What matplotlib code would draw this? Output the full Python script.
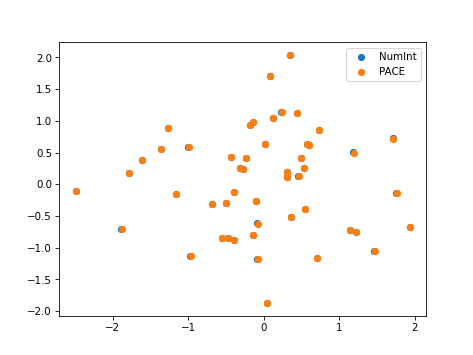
import matplotlib.pyplot as plt

# PACE estimates
pace_x = [-2.49, -1.88, -1.78, -1.61, -1.36, -1.27, -1.17, -0.99, -0.97, -0.69,
          -0.56, -0.50, -0.47, -0.43, -0.40, -0.39, -0.31, -0.28, -0.24, -0.19,
          -0.15, -0.14, -0.11, -0.08, -0.075, 0.02, 0.04, 0.08, 0.12, 0.24,
          0.30, 0.31, 0.345, 0.355, 0.44, 0.46, 0.49, 0.53, 0.55, 0.57,
          0.60, 0.71, 0.73, 1.14, 1.19, 1.22, 1.47, 1.71, 1.76, 1.93]
pace_y = [-0.10, -0.71, 0.18, 0.39, 0.56, 0.88, -0.15, 0.59, -1.13, -0.31,
          -0.84, -0.30, -0.85, 0.43, -0.12, -0.88, 0.26, 0.24, 0.41, 0.94,
          -0.80, 0.98, -0.27, -0.62, -1.18, 0.635, -1.88, 1.70, 1.04, 1.14,
          0.19, 0.11, 2.04, -0.51, 1.12, 0.13, 0.42, 0.26, -0.39, 0.63,
          0.62, -1.17, 0.86, -0.72, 0.50, -0.745, -1.06, 0.72, -0.145, -0.68]

# NumInt reference values (almost identical, small shifts)
numint_x = [-2.49, -1.89, -1.78, -1.61, -1.36, -1.27, -1.17, -1.00, -0.98, -0.69,
            -0.56, -0.50, -0.48, -0.44, -0.40, -0.40, -0.31, -0.28, -0.24, -0.19,
            -0.15, -0.14, -0.11, -0.09, -0.085, 0.01, 0.04, 0.08, 0.115, 0.23,
            0.30, 0.31, 0.345, 0.355, 0.44, 0.45, 0.49, 0.53, 0.545, 0.57,
            0.595, 0.705, 0.73, 1.14, 1.185, 1.22, 1.465, 1.705, 1.755, 1.93]
numint_y = [-0.10, -0.705, 0.18, 0.39, 0.56, 0.88, -0.15, 0.595, -1.125, -0.31,
            -0.84, -0.30, -0.845, 0.435, -0.12, -0.875, 0.26, 0.24, 0.41, 0.94,
            -0.80, 0.98, -0.27, -0.615, -1.175, 0.64, -1.88, 1.70, 1.045, 1.145,
            0.19, 0.11, 2.04, -0.51, 1.12, 0.135, 0.42, 0.26, -0.385, 0.63,
            0.625, -1.165, 0.86, -0.72, 0.505, -0.745, -1.055, 0.725, -0.14, -0.68]

fig, ax = plt.subplots(figsize=(6.4, 4.8), dpi=74)
ax.scatter(numint_x, numint_y, label="NumInt")
ax.scatter(pace_x, pace_y, label="PACE")
ax.legend(loc="upper right")
fig.savefig("out.png")
